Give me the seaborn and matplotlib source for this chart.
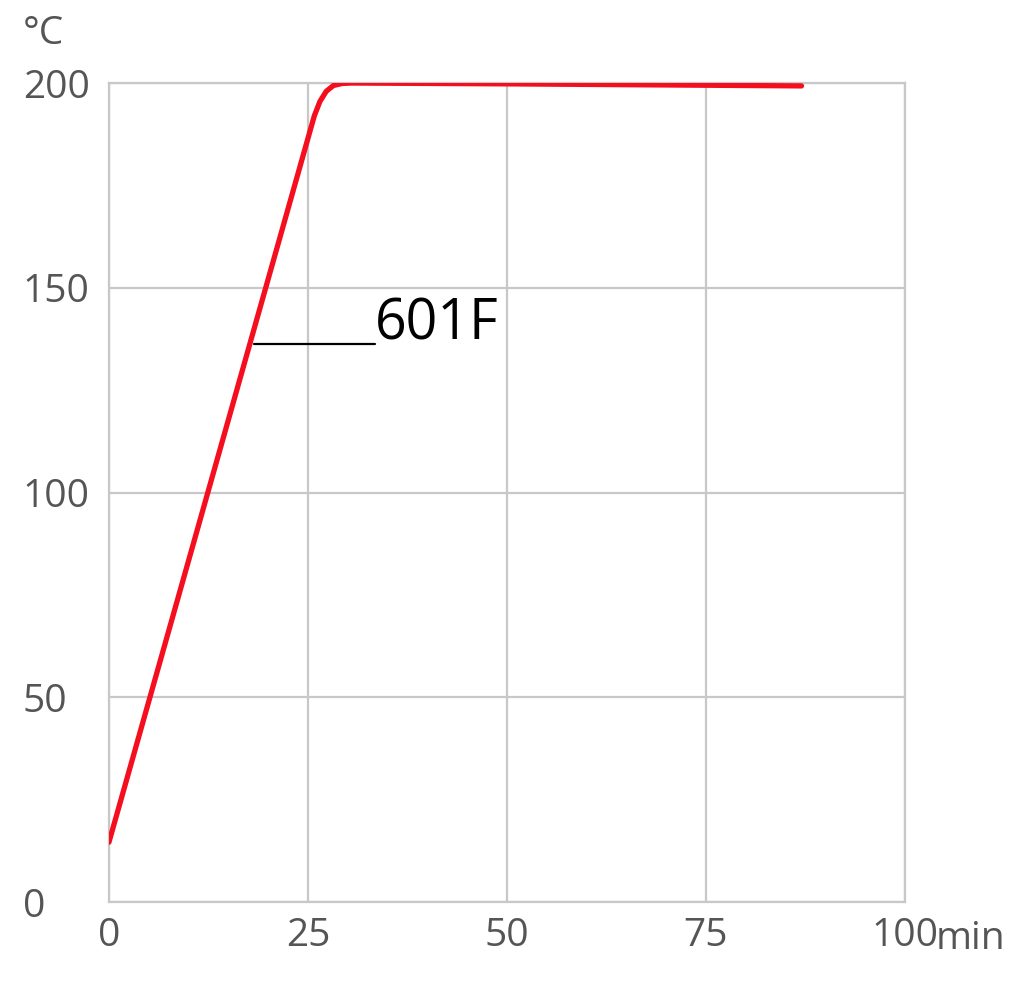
import numpy as np
import pandas as pd
import matplotlib
matplotlib.use("Agg")
import matplotlib.pyplot as plt
import seaborn as sns

# heating curve
time_min = [0, 25.8, 26.5, 27.3, 28.2, 29.3, 30.5, 50, 87]
temp_c = [14.6, 192, 195.5, 198, 199.4, 199.9, 200, 199.8, 199.3]
series_label = "601F"
x_ticks = [0, 25, 50, 75, 100]
y_ticks = [0, 50, 100, 150, 200]


def main():
    sns.set_style("white")
    plt.rcParams["font.family"] = ["Open Sans", "DejaVu Sans"]
    df = pd.DataFrame({"time": time_min, "temp": temp_c})

    fig = plt.figure(figsize=(10.24, 9.91), dpi=100)
    ax = fig.add_axes([0.1064, 0.0898, 0.7774, 0.8264])
    sns.lineplot(data=df, x="time", y="temp", color="#f50f1e", linewidth=3.8,
                 ax=ax, zorder=3)

    ax.set_xlim(0, 100)
    ax.set_ylim(0, 200)
    ax.set_xticks(x_ticks)
    ax.set_yticks(y_ticks)
    ax.grid(True, color="#c8c8c8", linewidth=1.6)
    for s in ax.spines.values():
        s.set_color("#c8c8c8")
        s.set_linewidth(1.6)
    ax.tick_params(length=0, labelsize=28, colors="#555555")
    for lab in ax.get_yticklabels():
        lab.set_horizontalalignment("left")
        lab.set_verticalalignment("center_baseline")
    ax.tick_params(axis="y", pad=62)
    ax.tick_params(axis="x", pad=11)
    ax.set_xlabel("")
    ax.set_ylabel("")

    ax.text(1.039, -0.045, "min", transform=ax.transAxes, fontsize=28,
            color="#555555", ha="left", va="center")
    ax.text(-0.108, 1.06, "°C", transform=ax.transAxes, fontsize=28,
            color="#555555", ha="left", va="center")

    ax.plot([18.2, 33.4], [136.3, 136.3], color="black", linewidth=1.6,
            zorder=4)
    ax.text(33.4, 137.3, series_label, fontsize=40, color="black",
            ha="left", va="baseline", zorder=4)

    fig.savefig("out.png", dpi=100, facecolor="white")
    plt.close(fig)


if __name__ == "__main__":
    main()
